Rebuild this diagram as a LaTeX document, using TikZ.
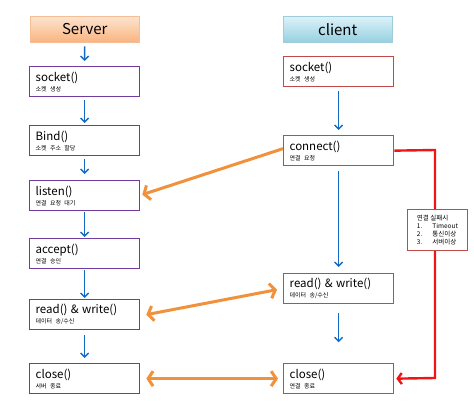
\documentclass[tikz,border=0pt]{standalone}
\usepackage{fontspec}
\setmainfont{Noto Sans CJK KR}
\usetikzlibrary{arrows.meta}
\definecolor{srvb}{RGB}{112,60,160}
\definecolor{clib}{RGB}{190,75,72}
\definecolor{blu}{RGB}{20,105,195}
\definecolor{org}{RGB}{242,145,60}
\definecolor{redl}{RGB}{240,20,20}
\tikzset{
  box/.style={draw, line width=1.3pt, fill=white, minimum width=110pt, minimum height=30pt,
    text width=98pt, inner xsep=6pt, inner ysep=1pt, align=left, anchor=north west},
  sbox/.style={box, draw=srvb},
  cbox/.style={box, draw=clib},
  hdr/.style={minimum width=109pt, minimum height=26pt, anchor=north west, inner sep=0pt,
    font=\fontsize{15}{16}\selectfont},
  flow/.style={draw=blu, line width=1.4pt, -{Straight Barb[length=4pt,width=8pt]}},
  oarr/.style={draw=org, line width=3pt, -{Straight Barb[length=5pt,width=15pt]}},
  oarr2/.style={draw=org, line width=3pt, {Straight Barb[length=5pt,width=15pt]}-{Straight Barb[length=5pt,width=15pt]}},
  rarr/.style={draw=redl, line width=2.4pt, -{Straight Barb[length=4pt,width=11pt]}},
}
\newcommand{\bx}[2]{{\fontsize{11.5}{12}\selectfont #1}\\[-2pt]{\fontsize{6}{7}\selectfont #2}}
\begin{document}
\begin{tikzpicture}[x=1pt,y=-1pt]
\useasboundingbox (0,0) rectangle (474,412);
% headers
\node[hdr, top color={rgb,255:red,253;green,228;blue,208}, bottom color={rgb,255:red,249;green,180;blue,128}, draw={rgb,255:red,245;green,190;blue,150}] (sh) at (30,16) {Server};
\node[hdr, top color={rgb,255:red,222;green,242;blue,248}, bottom color={rgb,255:red,150;green,208;blue,225}, draw={rgb,255:red,160;green,205;blue,220}] (ch) at (283,16) {client};
% server boxes
\node[sbox] (s1) at (29,66) {\bx{socket()}{소켓 생성}};
\node[sbox] (s2) at (29,125) {\bx{Bind()}{소켓 주소 할당}};
\node[sbox] (s3) at (29,180) {\bx{listen()}{연결 요청 대기}};
\node[sbox] (s4) at (29,238) {\bx{accept()}{연결 승인}};
\node[sbox] (s5) at (29,299) {\bx{read() \& write()}{데이터 송/수신}};
\node[sbox] (s6) at (29,363) {\bx{close()}{서버 종료}};
% client boxes
\node[cbox] (c1) at (283,56) {\bx{socket()}{소켓 생성}};
\node[cbox] (c2) at (283,135) {\bx{connect()}{연결 요청}};
\node[cbox] (c3) at (283,273) {\bx{read() \& write()}{데이터 송/수신}};
\node[cbox] (c4) at (283,363) {\bx{close()}{연결 종료}};
% server flow
\draw[flow] ([yshift=-4pt]sh.south) -- ([yshift=5pt]s1.north);
\draw[flow] ([yshift=-3pt]s1.south) -- ([yshift=2pt]s2.north);
\draw[flow] ([yshift=-3pt]s2.south) -- ([yshift=6pt]s3.north);
\draw[flow] ([yshift=-1pt]s3.south) -- ([yshift=1pt]s4.north);
\draw[flow] ([yshift=-1pt]s4.south) -- ([yshift=1pt]s5.north);
\draw[flow] ([yshift=-5pt]s5.south) -- ([yshift=5pt]s6.north);
% client flow
\coordinate (c3b) at ([yshift=-38pt]c3.south);
\draw[flow] ([yshift=-4pt]c1.south) -- ([yshift=5pt]c2.north);
\draw[flow] ([yshift=-5pt]c2.south) -- ([yshift=6pt]c3.north);
\draw[flow] ([yshift=-9pt]c3.south) -- (c3b);
% orange
\draw[oarr] ([yshift=2pt]c2.west) -- ([xshift=2pt,yshift=1pt]s3.east);
\draw[oarr2] ([xshift=6pt]s5.east) -- ([xshift=-6pt,yshift=-1pt]c3.west);
\draw[oarr2] ([xshift=6pt]s6.east) -- ([xshift=-5pt]c4.west);
% red failure path
\coordinate (rt) at (435,150);
\coordinate (rb) at (435,378);
\draw[rarr] (c2.east) -- (rt) -- (rb) -- ([xshift=2pt]c4.east);
\node[draw=clib, line width=1pt, fill=white, anchor=north west, minimum width=60pt, minimum height=41pt,
  inner xsep=3pt, inner ysep=2pt, align=left, font=\fontsize{6.5}{8}\selectfont] (fail) at (407,209)
  {연결 실패시\\1.\hspace{10pt}Timeout\\2.\hspace{10pt}통신이상\\3.\hspace{10pt}서버이상};
\end{tikzpicture}
\end{document}
